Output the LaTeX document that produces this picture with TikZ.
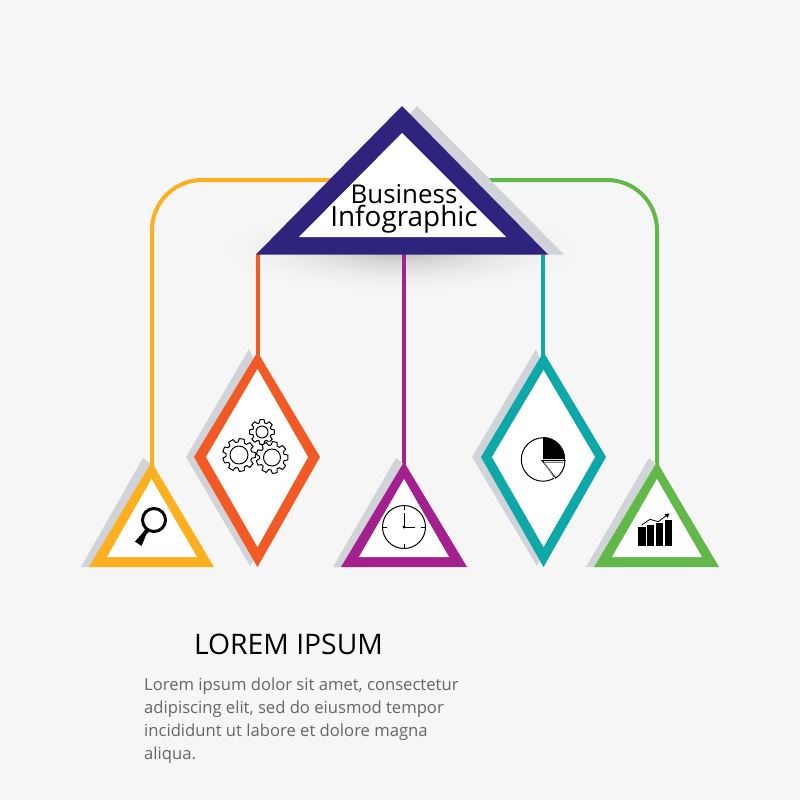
\documentclass[tikz,border=0pt]{standalone}
\usepackage{fontspec}
\setmainfont{Open Sans}
\definecolor{bgc}{HTML}{F6F6F6}
\definecolor{shadowc}{HTML}{D0D4D9}
\definecolor{navyc}{HTML}{2E247D}
\definecolor{yellowc}{HTML}{FDB01F}
\definecolor{orangec}{HTML}{F15A24}
\definecolor{purplec}{HTML}{A3218E}
\definecolor{tealc}{HTML}{0FA8A8}
\definecolor{greenc}{HTML}{63B84A}
\definecolor{softc}{HTML}{B8B8BA}
\definecolor{bodyc}{HTML}{666666}
\tikzset{
  conn/.style={line width=4bp},
  sidecast/.style={fill=shadowc},
  hollow/.style={fill=white},
  thinicon/.style={draw=black,line width=1bp,line join=round},
  bodytext/.style={anchor=base west,font=\fontsize{16.7}{17}\selectfont,text=bodyc,inner sep=0pt},
}
% centre x, centre y, outer radius, root radius, hole radius, teeth
\newcommand{\GearIcon}[6]{%
  \pgfmathsetmacro{\gstep}{360/#6}%
  \fill[white] (#1,#2) circle[radius=#3];
  \draw[thinicon]
    ({#1+#4*cos(-0.36*\gstep)},{#2+#4*sin(-0.36*\gstep)})
    \foreach \k in {1,...,#6}{
      -- ({#1+#3*cos(\k*\gstep-0.22*\gstep-\gstep)},{#2+#3*sin(\k*\gstep-0.22*\gstep-\gstep)})
      -- ({#1+#3*cos(\k*\gstep+0.22*\gstep-\gstep)},{#2+#3*sin(\k*\gstep+0.22*\gstep-\gstep)})
      -- ({#1+#4*cos(\k*\gstep+0.36*\gstep-\gstep)},{#2+#4*sin(\k*\gstep+0.36*\gstep-\gstep)})
      -- ({#1+#4*cos(\k*\gstep+0.64*\gstep-\gstep)},{#2+#4*sin(\k*\gstep+0.64*\gstep-\gstep)})
    } -- cycle;
  \draw[thinicon] (#1,#2) circle[radius=#5];
}
\begin{document}
\begin{tikzpicture}[x=1bp,y=-1bp]
\useasboundingbox (0,0) rectangle (800,800);
\fill[bgc] (0,0) rectangle (800,800);

% soft cast shadow under the top triangle, built from nested ellipses
\foreach \i in {40,39,...,1}{
  \pgfmathsetmacro{\frac}{\i/40}
  \pgfmathsetmacro{\mixp}{100*(1-\frac)*(1-\frac)}
  \fill[softc!\mixp!bgc] (402,250) ellipse[x radius={195*\frac},y radius={46*\frac}];
}

% anchor points
\coordinate (mainYellow) at (345,180);
\coordinate (mainGreen)  at (480,180);
\coordinate (mainOrange) at (258,254);
\coordinate (mainPurple) at (404,250);
\coordinate (mainTeal)   at (543,252);
\coordinate (yellowTop)  at (152,470);
\coordinate (orangeTop)  at (258,360);
\coordinate (purpleTop)  at (404,470);
\coordinate (tealTop)    at (543,360);
\coordinate (greenTop)   at (657,470);

% connectors
\draw[conn,yellowc,rounded corners=50bp] (yellowTop) |- (mainYellow);
\draw[conn,greenc,rounded corners=50bp] (greenTop) |- (mainGreen);
\draw[conn,orangec] (mainOrange) -- (orangeTop);
\draw[conn,purplec] (mainPurple) -- (purpleTop);
\draw[conn,tealc] (mainTeal) -- (tealTop);

% top triangle
\fill[sidecast] (417,106) -- (564,254.5) -- (500,254.5) -- (410,114) -- cycle;
\fill[navyc] (402,106) -- (548,254.5) -- (256,254.5) -- cycle;
\fill[hollow] (402,133) -- (506,237) -- (299,237) -- cycle;

% yellow triangle
\fill[sidecast] (143,458) -- (81,567) -- (120,567) -- (151,464) -- cycle;
\fill[yellowc] (151.5,462) -- (214,567) -- (89,567) -- cycle;
\fill[hollow] (151.5,479) -- (197,557) -- (107,557) -- cycle;

% orange diamond
\fill[sidecast] (249,349) -- (186,457) -- (250,566) -- (254,560) -- (254,360) -- cycle;
\fill[orangec] (257.5,352) -- (320,457) -- (257.5,567) -- (194,457) -- cycle;
\fill[hollow] (257.5,369) -- (308,457) -- (257.5,547) -- (206,457) -- cycle;

% purple triangle
\fill[sidecast] (396,458) -- (333,567) -- (370,567) -- (403.5,464) -- cycle;
\fill[purplec] (404,462) -- (467,567) -- (341,567) -- cycle;
\fill[hollow] (404,479) -- (449,557) -- (359,557) -- cycle;

% teal diamond
\fill[sidecast] (536,349) -- (472,457) -- (537,566) -- (540,560) -- (540,360) -- cycle;
\fill[tealc] (543.5,352) -- (606,457) -- (543.5,567) -- (481,457) -- cycle;
\fill[hollow] (543.5,370) -- (595,457) -- (543.5,547) -- (492,457) -- cycle;

% green triangle
\fill[sidecast] (649,458) -- (586,567) -- (625,567) -- (656.5,464) -- cycle;
\fill[greenc] (657,462) -- (719,567) -- (594,567) -- cycle;
\fill[hollow] (657,479) -- (702,557) -- (612,557) -- cycle;

% magnifier
\draw[black,line width=3bp] (154,520) circle[radius=11.5];
\fill[black] (146.5,527.5) -- (150,530.5) -- (146,535) -- (141.5,546) -- (135,541.5) -- (142.5,533) -- cycle;

% gears
\GearIcon{262}{432}{12.5}{9.5}{6}{8}
\GearIcon{272}{457.5}{16}{12.5}{8.5}{9}
\GearIcon{239}{455}{16.5}{13}{9}{9}

% clock
\draw[black,line width=1bp] (404,527) circle[radius=21.5];
\draw[black,line width=1bp] (404,505.5) -- (404,510) (404,548.5) -- (404,544)
  (382.5,527) -- (387,527) (425.5,527) -- (421,527);
\draw[black,line width=1bp] (404,513) -- (404,527) -- (415,527);
\fill[black] (404,527) circle[radius=1.6];

% pie
\draw[black,line width=1bp] (543,459.5) circle[radius=21.7];
\fill[white] (541.5,461) -- (567,461) -- (567,480) -- (556,481) -- cycle;
\draw[black,line width=1bp] (542,460.5) -- (565,460.5) arc[start angle=0,end angle=55,radius=21.5] -- cycle;
\draw[gray,line width=1bp] (544,462.5) -- (563,462.5);
\draw[gray,line width=1bp] (544,462.5) -- (554,477);
\fill[black] (543,437) arc[start angle=-90,end angle=0,radius=22] -- (543,459) -- cycle;

% bars and trend arrow
\fill[black] (638.3,527) rectangle (645.7,545.7);
\fill[black] (647.3,525) rectangle (654.3,545.7);
\fill[black] (656,522.7) rectangle (663.3,545.7);
\fill[black] (665,520) rectangle (672.3,545.7);
\draw[black,line width=0.8bp] (641.7,525) -- (650,519.3) -- (658.3,521.7) -- (667,515);
\fill[black] (669.5,513.5) -- (664.5,514) -- (667.5,518) -- cycle;

% texts
\node[align=center,text=black,inner sep=0pt] (title) at (404,209)
  {\fontsize{26}{23.1}\selectfont Business\\\fontsize{28}{23.1}\selectfont Infographic};
\node[anchor=base,font=\fontsize{28.4}{28}\selectfont,text=black,inner sep=0pt] (heading) at (288.5,654) {LOREM IPSUM};
\node[bodytext] (bodyA) at (144,690) {Lorem ipsum dolor sit amet, consectetur};
\node[bodytext] (bodyB) at (144,713) {adipiscing elit, sed do eiusmod tempor};
\node[bodytext] (bodyC) at (144,736) {incididunt ut labore et dolore magna};
\node[bodytext] (bodyD) at (144,759) {aliqua.};
\end{tikzpicture}
\end{document}
